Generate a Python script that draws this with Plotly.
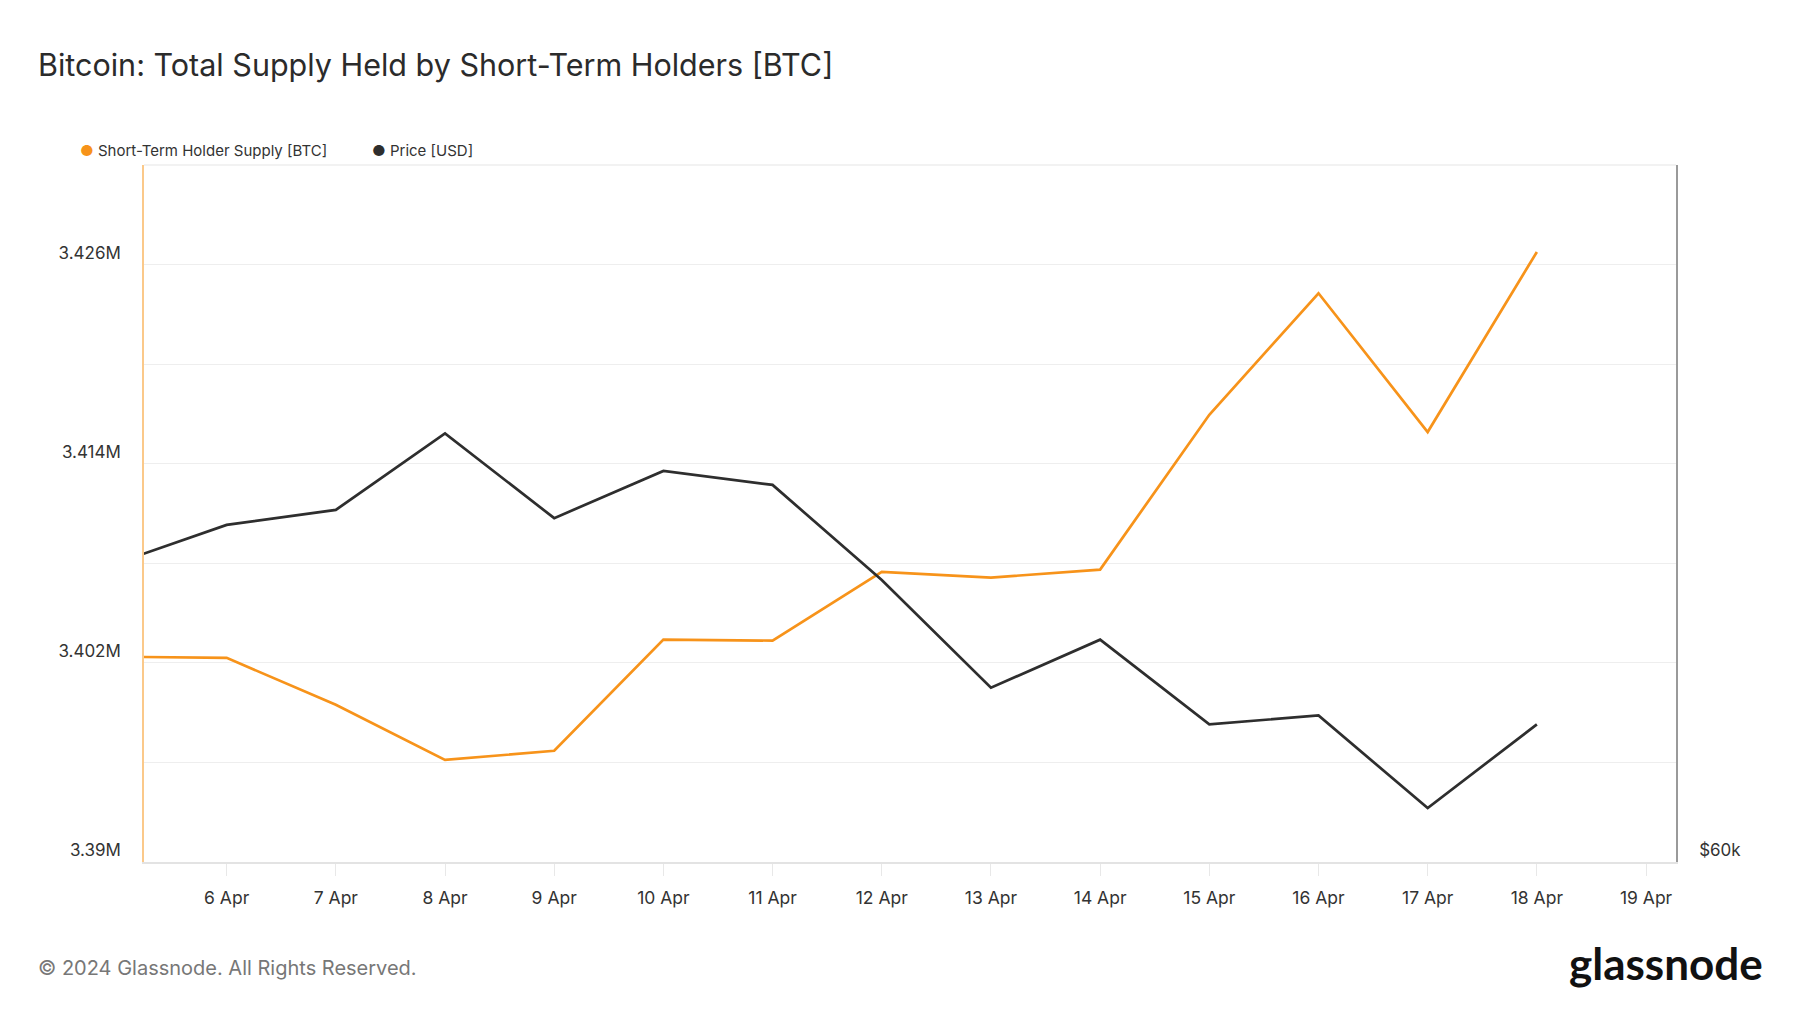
import plotly.graph_objects as go

dates = ["2024-04-05", "2024-04-06", "2024-04-07", "2024-04-08", "2024-04-09",
         "2024-04-10", "2024-04-11", "2024-04-12", "2024-04-13", "2024-04-14",
         "2024-04-15", "2024-04-16", "2024-04-17", "2024-04-18"]
sth_supply = [3402370, 3402300, 3399470, 3396150, 3396700, 3403400, 3403340,
              3407480, 3407140, 3407620, 3416950, 3424270, 3415910, 3426760]
price_usd = [68370, 69430, 69850, 71990, 69620, 70940, 70550,
             67890, 64875, 66220, 63850, 64100, 61510, 63850]

y_tick_vals = [3390000, 3402000, 3414000, 3426000]
y_tick_text = ["3.39M", "3.402M", "3.414M", "3.426M"]
y2_tick_vals = [60000]
y2_tick_text = ["$60k"]
x_tick_vals = ["2024-04-%02d" % d for d in range(6, 20)]

ORANGE = "#f7931a"
DARK = "#2e2e2e"
FONT = "Inter"

L, R, T, B = 136, 132, 157, 159
W, H = 1800, 1013
PW, PH = W - L - R, H - T - B


def px(x):
    return (x - L) / PW


def py(y):
    return (H - B - y) / PH


fig = go.Figure()
fig.add_trace(go.Scatter(x=dates, y=sth_supply, mode="lines", name="Short-Term Holder Supply [BTC]",
                         line=dict(color=ORANGE, width=2.7), yaxis="y", showlegend=False))
fig.add_trace(go.Scatter(x=dates, y=price_usd, mode="lines", name="Price [USD]",
                         line=dict(color=DARK, width=2.7), yaxis="y2", showlegend=False))

fig.update_layout(
    width=W, height=H,
    paper_bgcolor="white", plot_bgcolor="white",
    margin=dict(l=L, r=R, t=T, b=B),
    font=dict(family=FONT, color="#333333", size=16),
    xaxis=dict(
        range=["2024-04-05 05:50", "2024-04-19 06:35"],
        tickvals=x_tick_vals, tickformat="%-d %b",
        showgrid=False, ticks="outside", ticklen=12, tickcolor="#e8e8e8",
        showline=True, linecolor="#e3e3e3", linewidth=1.5,
        tickfont=dict(size=17.5, color="#333333"), ticklabelstandoff=7,
        zeroline=False, mirror=False,
    ),
    yaxis=dict(
        range=[3390000, 3432000],
        tickvals=y_tick_vals, ticktext=y_tick_text,
        showgrid=True, gridcolor="#eeeeee", gridwidth=1,
        minor=dict(dtick=6000, tick0=3390000, showgrid=True, gridcolor="#eeeeee", gridwidth=1),
        showline=True, linecolor="#fbc98a", linewidth=1.5,
        tickfont=dict(size=17, color="#333333"), ticklabelstandoff=18,
        ticklabelposition="outside top",
        zeroline=False, ticks="",
    ),
    yaxis2=dict(
        range=[60000, 79500], overlaying="y", side="right",
        tickvals=y2_tick_vals, ticktext=y2_tick_text,
        showgrid=False, showline=True, linecolor="#9a9a9a", linewidth=1.5,
        tickfont=dict(size=17, color="#333333"), ticklabelstandoff=18,
        ticklabelposition="outside top",
        zeroline=False, ticks="",
    ),
    shapes=[dict(type="line", xref="paper", yref="paper", x0=0, x1=1, y0=1, y1=1,
                 line=dict(color="#eeeeee", width=1.5))],
    annotations=[
        dict(text="Bitcoin: Total Supply Held by Short-Term Holders [BTC]", xref="paper", yref="paper",
             x=px(28), y=py(57), xanchor="left", yanchor="middle", showarrow=False,
             font=dict(size=30.5, color="#2b2b2b", family=FONT)),
        dict(text="<span style='color:%s'>●</span> Short-Term Holder Supply [BTC]" % ORANGE,
             xref="paper", yref="paper", x=px(70), y=py(142),
             xanchor="left", yanchor="middle", showarrow=False,
             font=dict(size=15, color="#333333", family=FONT)),
        dict(text="<span style='color:%s'>●</span> Price [USD]" % DARK,
             xref="paper", yref="paper", x=px(362), y=py(142),
             xanchor="left", yanchor="middle", showarrow=False,
             font=dict(size=15, color="#333333", family=FONT)),
        dict(text="© 2024 Glassnode. All Rights Reserved.", xref="paper", yref="paper",
             x=px(28), y=py(960), xanchor="left", yanchor="middle", showarrow=False,
             font=dict(size=20, color="#777777", family=FONT)),
        dict(text="<b>glassnode</b>", xref="paper", yref="paper",
             x=px(1757), y=py(955), xanchor="right", yanchor="middle", showarrow=False,
             font=dict(size=44, color="#111111", family="Lato")),
    ],
)

fig.write_html("out.html")
